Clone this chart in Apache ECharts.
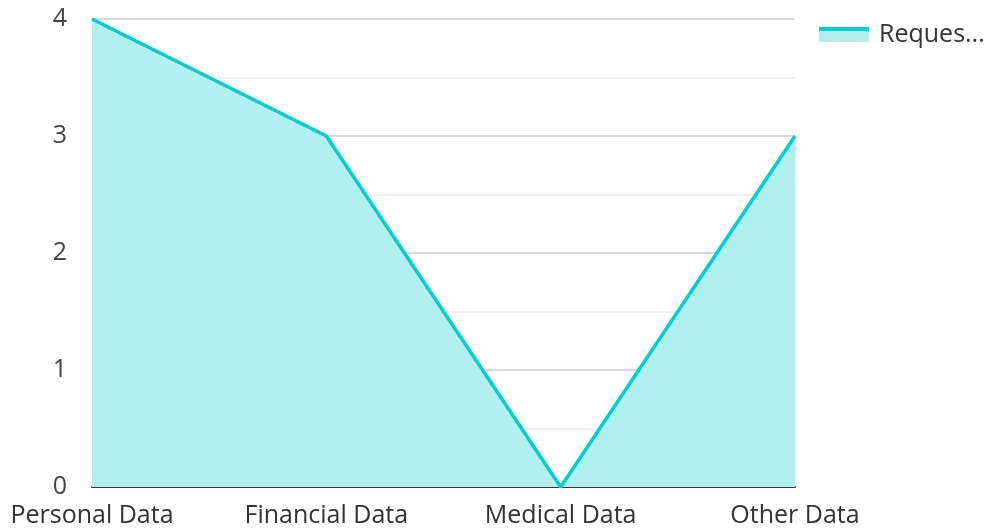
<!DOCTYPE html>
<html>
<head>
<meta charset="utf-8">
<script src="https://cdn.jsdelivr.net/npm/echarts@6/dist/echarts.min.js"></script>
<style>
html, body { margin: 0; padding: 0; background: #fff; }
#main { width: 984px; height: 528px; }
</style>
</head>
<body>
<div id="main"></div>
<script>
var categories = ['Personal Data', 'Financial Data', 'Medical Data', 'Other Data'];
var requests = [4, 3, 0, 3];
var yTicks = [0, 1, 2, 3, 4];

var lineColor = '#00CED1';
var areaColor = '#B2EFEF';

var myChart = echarts.init(document.getElementById('main'));
var option = {
    animation: false,
    textStyle: { fontFamily: 'Open Sans' },
    legend: {
        data: ['Requests'],
        left: 814,
        top: 17,
        itemWidth: 50,
        itemHeight: 15,
        itemGap: 10,
        icon: 'rect',
        // the legend box is narrow, so the name is cut short
        formatter: function(name) {
            return name.length > 6 ? name.slice(0, 6) + '...' : name;
        },
        itemStyle: {
            color: new echarts.graphic.LinearGradient(0, 0, 0, 1, [
                { offset: 0, color: lineColor },
                { offset: 0.27, color: lineColor },
                { offset: 0.27, color: areaColor },
                { offset: 1, color: areaColor }
            ]),
            borderWidth: 0
        },
        lineStyle: { width: 0 },
        textStyle: {
            fontSize: 25,
            color: '#333',
            padding: [0, 0, 0, 5],
            fontFamily: 'Open Sans'
        }
    },
    grid: {
        left: 92,
        right: 189,
        top: 19,
        bottom: 41,
        containLabel: false
    },
    xAxis: {
        type: 'category',
        boundaryGap: false,
        data: categories,
        axisLine: { lineStyle: { color: '#333', width: 2 } },
        axisTick: { show: false },
        axisLabel: { fontSize: 25, color: '#333', margin: 16 },
        splitLine: { show: false }
    },
    yAxis: {
        type: 'value',
        min: yTicks[0],
        max: yTicks[yTicks.length - 1],
        interval: 1,
        axisLine: { show: false },
        axisTick: { show: false },
        axisLabel: { fontSize: 25, color: '#444', margin: 25 },
        splitLine: { lineStyle: { color: '#ccc', width: 1.5 } },
        minorTick: { show: false, splitNumber: 2 },
        minorSplitLine: { show: true, lineStyle: { color: '#eaeaea', width: 1.5 } }
    },
    series: [{
        name: 'Requests',
        type: 'line',
        data: requests,
        showSymbol: false,
        symbol: 'none',
        lineStyle: { color: lineColor, width: 3.5 },
        itemStyle: { color: lineColor },
        areaStyle: { color: areaColor, opacity: 1 }
    }]
};
myChart.setOption(option);
</script>
</body>
</html>
